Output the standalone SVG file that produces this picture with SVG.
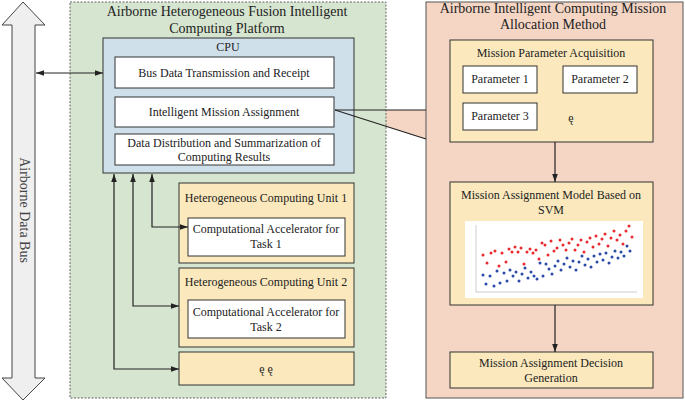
<svg xmlns="http://www.w3.org/2000/svg" width="685" height="402" viewBox="0 0 685 402" font-family="'Liberation Serif', serif">
<style>
text{font-family:'Liberation Serif',serif;font-size:12px;fill:#222;text-anchor:middle}
.t{font-size:14px}
.w{fill:#fff;stroke:#333;stroke-width:1}
.y{fill:#fbe9bd;stroke:#333;stroke-width:1}
.c{fill:none;stroke:#222;stroke-width:1.2}
.r{fill:#e8292e}.b{fill:#2a4aa8}
</style>
<defs>
<marker id="a" viewBox="0 0 10 10" refX="10" refY="5" markerWidth="7" markerHeight="7" orient="auto-start-reverse"><path d="M0,1.5L10,5L0,8.5z" fill="#222"/></marker>
</defs>
<polygon points="335,110 426,110 426,139" fill="#f5d6c5"/>
<g id="bus">
<polygon points="23,2 45,25 35,25 35,378 45,378 23,400 2,378 12,378 12,25 2,25" fill="#efefef" stroke="#444"/>
<text transform="translate(20,210) rotate(90)" class="t" style="fill:#444">Airborne Data Bus</text>
</g>
<g id="platform">
<rect x="70" y="2" width="316" height="396" fill="#d6e5cf" stroke="#666" stroke-dasharray="2,1.5"/>
<text x="227" y="16" class="t">Airborne Heterogeneous Fusion Intelligent</text>
<text x="227" y="33" class="t">Computing Platform</text>
</g>
<g id="method">
<rect x="426" y="2" width="257" height="396" fill="#f5d6c5" stroke="#555"/>
<text x="553" y="13" class="t">Airborne Intelligent Computing Mission</text>
<text x="553" y="29" class="t">Allocation Method</text>
</g>
<g id="cpu">
<rect x="103" y="38" width="251" height="135" fill="#cfe0eb" stroke="#333"/>
<text x="228" y="51">CPU</text>
</g>
<g id="bus-data"><rect class="w" x="115" y="57" width="219" height="31"/><text x="224" y="77">Bus Data Transmission and Receipt</text></g>
<g id="ima"><rect class="w" x="115" y="97" width="219" height="30"/><text x="224" y="116">Intelligent Mission Assignment</text></g>
<g id="dds"><rect class="w" x="115" y="134" width="219" height="31"/><text x="224" y="147">Data Distribution and Summarization of</text><text x="224" y="161">Computing Results</text></g>
<g id="unit1"><rect class="y" x="179" y="183" width="175" height="80"/><text x="266" y="202">Heterogeneous Computing Unit 1</text>
<rect class="w" x="188" y="218" width="157" height="38"/><text x="266" y="233">Computational Accelerator for</text><text x="266" y="248">Task 1</text></g>
<g id="unit2"><rect class="y" x="179" y="268" width="175" height="79"/><text x="266" y="286">Heterogeneous Computing Unit 2</text>
<rect class="w" x="188" y="300" width="157" height="38"/><text x="266" y="316">Computational Accelerator for</text><text x="266" y="331">Task 2</text></g>
<g id="more"><rect class="y" x="179" y="352" width="175" height="33"/><text x="266" y="373">ę ę</text></g>
<g id="param"><rect class="y" x="450" y="40" width="203" height="102"/><text x="551" y="57">Mission Parameter Acquisition</text>
<rect class="w" x="463" y="66" width="74" height="27"/><text x="500" y="83">Parameter 1</text>
<rect class="w" x="563" y="66" width="74" height="27"/><text x="600" y="83">Parameter 2</text>
<rect class="w" x="463" y="103" width="74" height="27"/><text x="500" y="120">Parameter 3</text>
<text x="571" y="122">ę</text></g>
<g id="svm"><rect class="y" x="450" y="182" width="203" height="123"/><text x="551" y="199">Mission Assignment Model Based on</text><text x="551" y="214">SVM</text>
<rect x="465" y="221" width="178" height="77" fill="#fff"/>
<g fill="none" stroke="#999" stroke-width="0.5"><path d="M476,225V292H637"/></g>
<g class="r">
<circle cx="483" cy="255" r="1.5"/><circle cx="487" cy="263" r="1.5"/><circle cx="491" cy="253" r="1.5"/><circle cx="495" cy="251" r="1.5"/><circle cx="499" cy="266" r="1.5"/><circle cx="502" cy="253" r="1.5"/><circle cx="506" cy="262" r="1.5"/><circle cx="509" cy="249" r="1.5"/><circle cx="512" cy="252" r="1.5"/><circle cx="515" cy="247" r="1.5"/><circle cx="518" cy="252" r="1.5"/><circle cx="521" cy="248" r="1.5"/><circle cx="524" cy="264" r="1.5"/><circle cx="527" cy="252" r="1.5"/><circle cx="530" cy="249" r="1.5"/><circle cx="533" cy="253" r="1.5"/><circle cx="536" cy="250" r="1.5"/><circle cx="539" cy="259" r="1.5"/><circle cx="542" cy="243" r="1.5"/><circle cx="545" cy="245" r="1.5"/><circle cx="548" cy="255" r="1.5"/><circle cx="551" cy="241" r="1.5"/><circle cx="554" cy="251" r="1.5"/><circle cx="557" cy="248" r="1.5"/><circle cx="560" cy="240" r="1.5"/><circle cx="563" cy="245" r="1.5"/><circle cx="566" cy="250" r="1.5"/><circle cx="569" cy="243" r="1.5"/><circle cx="572" cy="239" r="1.5"/><circle cx="575" cy="250" r="1.5"/><circle cx="578" cy="245" r="1.5"/><circle cx="581" cy="240" r="1.5"/><circle cx="584" cy="252" r="1.5"/><circle cx="587" cy="242" r="1.5"/><circle cx="590" cy="238" r="1.5"/><circle cx="593" cy="247" r="1.5"/><circle cx="596" cy="236" r="1.5"/><circle cx="599" cy="244" r="1.5"/><circle cx="602" cy="239" r="1.5"/><circle cx="605" cy="234" r="1.5"/><circle cx="608" cy="246" r="1.5"/><circle cx="611" cy="238" r="1.5"/><circle cx="614" cy="231" r="1.5"/><circle cx="617" cy="240" r="1.5"/><circle cx="620" cy="235" r="1.5"/><circle cx="623" cy="244" r="1.5"/><circle cx="626" cy="231" r="1.5"/><circle cx="629" cy="226" r="1.5"/><circle cx="632" cy="237" r="1.5"/>
</g>
<g class="b">
<circle cx="483" cy="275" r="1.5"/><circle cx="486" cy="284" r="1.5"/><circle cx="490" cy="276" r="1.5"/><circle cx="494" cy="286" r="1.5"/><circle cx="497" cy="271" r="1.5"/><circle cx="500" cy="283" r="1.5"/><circle cx="504" cy="273" r="1.5"/><circle cx="507" cy="281" r="1.5"/><circle cx="510" cy="270" r="1.5"/><circle cx="513" cy="276" r="1.5"/><circle cx="516" cy="272" r="1.5"/><circle cx="519" cy="281" r="1.5"/><circle cx="522" cy="274" r="1.5"/><circle cx="525" cy="268" r="1.5"/><circle cx="528" cy="278" r="1.5"/><circle cx="531" cy="272" r="1.5"/><circle cx="534" cy="276" r="1.5"/><circle cx="537" cy="279" r="1.5"/><circle cx="540" cy="263" r="1.5"/><circle cx="543" cy="276" r="1.5"/><circle cx="546" cy="264" r="1.5"/><circle cx="549" cy="269" r="1.5"/><circle cx="552" cy="274" r="1.5"/><circle cx="555" cy="266" r="1.5"/><circle cx="558" cy="261" r="1.5"/><circle cx="561" cy="270" r="1.5"/><circle cx="564" cy="264" r="1.5"/><circle cx="567" cy="258" r="1.5"/><circle cx="570" cy="267" r="1.5"/><circle cx="573" cy="261" r="1.5"/><circle cx="576" cy="270" r="1.5"/><circle cx="579" cy="262" r="1.5"/><circle cx="582" cy="256" r="1.5"/><circle cx="585" cy="265" r="1.5"/><circle cx="588" cy="259" r="1.5"/><circle cx="591" cy="267" r="1.5"/><circle cx="594" cy="256" r="1.5"/><circle cx="597" cy="262" r="1.5"/><circle cx="600" cy="254" r="1.5"/><circle cx="603" cy="260" r="1.5"/><circle cx="606" cy="253" r="1.5"/><circle cx="609" cy="263" r="1.5"/><circle cx="612" cy="257" r="1.5"/><circle cx="615" cy="251" r="1.5"/><circle cx="618" cy="258" r="1.5"/><circle cx="621" cy="252" r="1.5"/><circle cx="624" cy="256" r="1.5"/><circle cx="627" cy="246" r="1.5"/><circle cx="630" cy="251" r="1.5"/>
</g></g>
<g id="decision"><rect class="y" x="450" y="352" width="203" height="36"/><text x="551" y="367">Mission Assignment Decision</text><text x="551" y="382">Generation</text></g>
<g id="connectors">
<polyline points="335,110 426,110" class="c" stroke-width="1"/>
<polyline points="335,110 426,139" class="c" stroke-width="1"/>
<line class="c" x1="36" y1="73" x2="103" y2="73" marker-start="url(#a)" marker-end="url(#a)"/>
<polyline class="c" points="152,174 152,227 188,227" marker-start="url(#a)" marker-end="url(#a)"/>
<polyline class="c" points="133,174 133,306 179,306" marker-start="url(#a)" marker-end="url(#a)"/>
<polyline class="c" points="114,174 114,369 179,369" marker-start="url(#a)" marker-end="url(#a)"/>
<line class="c" x1="555" y1="142" x2="555" y2="182" marker-end="url(#a)"/>
<line class="c" x1="555" y1="305" x2="555" y2="352" marker-end="url(#a)"/>
</g>
</svg>
